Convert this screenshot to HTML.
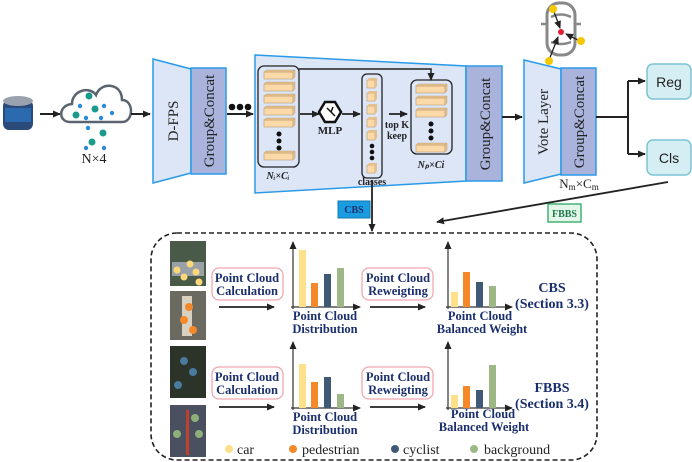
<!DOCTYPE html>
<html><head><meta charset="utf-8"><style>
body{margin:0;background:#fff}
svg{display:block}
.b{font-family:"Liberation Serif",serif;font-weight:bold;fill:#1b2f6e}
.s{font-family:"Liberation Serif",serif;fill:#222}
</style></head><body>
<svg width="692" height="462" viewBox="0 0 692 462" xmlns="http://www.w3.org/2000/svg">
<defs>
<marker id="a" markerWidth="8" markerHeight="8" refX="7" refY="4" orient="auto" markerUnits="userSpaceOnUse"><path d="M0,0.5 L8,4 L0,7.5 z" fill="#222"/></marker>
<g id="bar"><rect x="0" y="0" width="29" height="7" fill="#fcd9a8" stroke="#b89a70" stroke-width="0.6"/><path d="M29,0 l2,-2 v7 l-2,2 z M0,0 l2,-2 h29 l-2,2z" fill="#e6c08a" stroke="#b89a70" stroke-width="0.4"/></g>
<g id="sq"><rect x="0" y="0" width="8" height="8" fill="#fcd9a8" stroke="#b89a70" stroke-width="0.6"/><path d="M8,0 l2,-2 v8 l-2,2 z M0,0 l2,-2 h8 l-2,2z" fill="#e6c08a"/></g>
</defs>
<!-- lidar -->
<rect x="3" y="100" width="30" height="30" rx="6" fill="#2a4a7a"/>
<ellipse cx="18" cy="101" rx="15" ry="5" fill="#9aa3ad"/>
<rect x="5" y="108" width="26" height="14" fill="#2e78c8" opacity="0.7"/>
<line x1="40" y1="114" x2="60" y2="114" stroke="#222" stroke-width="2" marker-end="url(#a)"/>
<!-- cloud -->
<path d="M70,122 C58,122 58,105 72,104 C72,90 90,86 96,95 C100,82 122,82 122,100 C134,100 134,122 122,122 Z" fill="#fff" stroke="#5a6470" stroke-width="2.5"/>
<g fill="#1a9a8a"><circle cx="89" cy="96" r="3.5"/><circle cx="95" cy="109" r="3.5"/><circle cx="76" cy="115" r="3.5"/><circle cx="103" cy="133" r="3.5"/><circle cx="92" cy="142" r="3.5"/></g>
<g fill="#2a8ad8"><circle cx="80" cy="106" r="2.2"/><circle cx="104" cy="106" r="2.2"/><circle cx="86" cy="118" r="2.2"/><circle cx="101" cy="118" r="2.2"/><circle cx="112" cy="113" r="2.2"/><circle cx="88" cy="128" r="2.2"/><circle cx="86" cy="148" r="2.2"/><circle cx="104" cy="148" r="2.2"/></g>
<text x="94" y="163" class="s" font-size="14" text-anchor="middle">N×4</text>
<line x1="131" y1="114" x2="150" y2="114" stroke="#222" stroke-width="2" marker-end="url(#a)"/>
<!-- D-FPS -->
<path d="M153,59 L191,69 L191,173 L153,183 Z" fill="#dce6f7" stroke="#2a9ae8" stroke-width="1.5"/>
<rect x="191" y="68" width="35" height="106" fill="#a9b3dc" stroke="#2a9ae8" stroke-width="1.5"/>
<text transform="translate(178,121) rotate(-90)" class="s" font-size="15" text-anchor="middle">D-FPS</text>
<text transform="translate(214,121) rotate(-90)" class="s" font-size="15" text-anchor="middle">Group&amp;Concat</text>
<circle cx="232" cy="107" r="3.3" fill="#111"/><circle cx="240" cy="107" r="3.3" fill="#111"/><circle cx="248" cy="107" r="3.3" fill="#111"/>
<line x1="227" y1="114" x2="253" y2="114" stroke="#222" stroke-width="2" marker-end="url(#a)"/>
<!-- big module -->
<path d="M255,55 L466,66 L466,181 L255,193 Z" fill="#dce6f7" stroke="#2a9ae8" stroke-width="1.5"/>
<rect x="466" y="66" width="36" height="115" fill="#a9b3dc" stroke="#2a9ae8" stroke-width="1.5"/>
<text transform="translate(490,124) rotate(-90)" class="s" font-size="15" text-anchor="middle">Group&amp;Concat</text>
<rect x="258" y="66" width="41" height="101" rx="6" fill="none" stroke="#222" stroke-width="1.3"/>
<use href="#bar" x="264" y="72"/><use href="#bar" x="264" y="84"/><use href="#bar" x="264" y="96"/><use href="#bar" x="264" y="108"/><use href="#bar" x="264" y="120"/><use href="#bar" x="264" y="153"/>
<circle cx="279" cy="134" r="2.5" fill="#111"/><circle cx="279" cy="141" r="2.5" fill="#111"/><circle cx="279" cy="148" r="2.5" fill="#111"/>
<text x="278" y="179" class="b" font-size="10" font-style="italic" text-anchor="middle" style="fill:#222">Nᵢ×Cᵢ</text>
<polyline points="299,69 431,69 431,80" fill="none" stroke="#222" stroke-width="1.5" marker-end="url(#a)"/>
<line x1="300" y1="114" x2="319" y2="114" stroke="#222" stroke-width="1.8" marker-end="url(#a)"/>
<polygon points="325,102 335,102 341,112 335,122 325,122 319,112" fill="#fff" stroke="#111" stroke-width="2.5"/>
<path d="M327,108 L331,112 L335,116 M331,112 L333,107" stroke="#111" stroke-width="1.5"/>
<text x="330" y="134" class="b" font-size="11" style="fill:#222" text-anchor="middle">MLP</text>
<line x1="342" y1="114" x2="360" y2="114" stroke="#222" stroke-width="1.8" marker-end="url(#a)"/>
<rect x="362" y="74" width="20" height="104" rx="5" fill="none" stroke="#222" stroke-width="1.3"/>
<use href="#sq" x="367" y="80"/><use href="#sq" x="367" y="93"/><use href="#sq" x="367" y="106"/><use href="#sq" x="367" y="119"/><use href="#sq" x="367" y="132"/><use href="#sq" x="367" y="165"/>
<circle cx="372" cy="146" r="2.3" fill="#111"/><circle cx="372" cy="152" r="2.3" fill="#111"/><circle cx="372" cy="158" r="2.3" fill="#111"/>
<text x="372" y="185" class="b" font-size="10" style="fill:#222" text-anchor="middle">classes</text>
<line x1="389" y1="114" x2="407" y2="114" stroke="#222" stroke-width="1.8" marker-end="url(#a)"/>
<text x="397" y="128" class="b" font-size="10" style="fill:#222" text-anchor="middle">top K</text>
<text x="397" y="139" class="b" font-size="10" style="fill:#222" text-anchor="middle">keep</text>
<rect x="411" y="80" width="41" height="74" rx="6" fill="none" stroke="#222" stroke-width="1.3"/>
<use href="#bar" x="416" y="86"/><use href="#bar" x="416" y="98"/><use href="#bar" x="416" y="110"/><use href="#bar" x="416" y="145"/>
<circle cx="431" cy="124" r="2.5" fill="#111"/><circle cx="431" cy="131" r="2.5" fill="#111"/><circle cx="431" cy="138" r="2.5" fill="#111"/>
<text x="431" y="168" class="b" font-size="10" font-style="italic" style="fill:#222" text-anchor="middle">Nₚ×Ci</text>
<line x1="502" y1="117" x2="522" y2="117" stroke="#222" stroke-width="2" marker-end="url(#a)"/>
<!-- vote -->
<path d="M524,60 L561,69 L561,174 L524,183 Z" fill="#dce6f7" stroke="#2a9ae8" stroke-width="1.5"/>
<rect x="561" y="68" width="35" height="107" fill="#a9b3dc" stroke="#2a9ae8" stroke-width="1.5"/>
<text transform="translate(548,122) rotate(-90)" class="s" font-size="15" text-anchor="middle">Vote Layer</text>
<text transform="translate(584,122) rotate(-90)" class="s" font-size="15" text-anchor="middle">Group&amp;Concat</text>
<text x="579" y="188" class="s" font-size="13" text-anchor="middle">N<tspan font-size="9" dy="2">m</tspan><tspan dy="-2">×C</tspan><tspan font-size="9" dy="2">m</tspan></text>
<!-- car -->
<rect x="547" y="3" width="28" height="52" rx="12" fill="none" stroke="#888" stroke-width="3"/>
<path d="M551,17 Q561,12 571,17 M551,42 Q561,46 571,42 M541,24 h6 M575,24 h6" stroke="#888" stroke-width="2.5" fill="none"/>
<line x1="553" y1="9" x2="560" y2="28" stroke="#222" stroke-width="1.3" marker-end="url(#a)"/>
<line x1="580" y1="41" x2="566" y2="34" stroke="#222" stroke-width="1.3" marker-end="url(#a)"/>
<line x1="549" y1="60" x2="558" y2="37" stroke="#222" stroke-width="1.3" marker-end="url(#a)"/>
<circle cx="561" cy="32" r="3" fill="#e02030"/>
<circle cx="553" cy="9" r="4" fill="#f5c800"/><circle cx="581" cy="41" r="4" fill="#f5c800"/><circle cx="549" cy="61" r="4" fill="#f5c800"/>
<!-- heads -->
<polyline points="596,117 628,117" fill="none" stroke="#222" stroke-width="2"/>
<polyline points="628,81 628,154" fill="none" stroke="#222" stroke-width="2"/>
<line x1="628" y1="81" x2="645" y2="81" stroke="#222" stroke-width="2" marker-end="url(#a)"/>
<line x1="628" y1="154" x2="645" y2="154" stroke="#222" stroke-width="2" marker-end="url(#a)"/>
<rect x="647" y="64" width="44" height="35" rx="6" fill="#d5eef3" stroke="#7cc4d4" stroke-width="1.5"/>
<rect x="647" y="140" width="44" height="35" rx="6" fill="#d5eef3" stroke="#7cc4d4" stroke-width="1.5"/>
<text x="669" y="87" font-family="Liberation Sans,sans-serif" font-size="14" fill="#222" text-anchor="middle">Reg</text>
<text x="669" y="163" font-family="Liberation Sans,sans-serif" font-size="14" fill="#222" text-anchor="middle">Cls</text>
<!-- CBS/FBBS -->
<rect x="338" y="201" width="32" height="17" fill="#1a9de0" stroke="#1478b0"/>
<text x="354" y="213" class="b" font-size="10" text-anchor="middle">CBS</text>
<line x1="372" y1="180" x2="372" y2="231" stroke="#222" stroke-width="1.8" marker-end="url(#a)"/>
<line x1="668" y1="182" x2="437" y2="222" stroke="#222" stroke-width="1.8" marker-end="url(#a)"/>
<rect x="548" y="204" width="33" height="18" fill="#e4f5ea" stroke="#2aa860" stroke-width="1.3"/>
<text x="564.5" y="217" font-family="Liberation Serif,serif" font-weight="bold" font-size="10" fill="#1f7a4a" text-anchor="middle">FBBS</text>
<!-- dashed box -->
<rect x="151" y="233" width="446" height="227" rx="26" fill="none" stroke="#222" stroke-width="1.6" stroke-dasharray="5,3"/>
<!-- images -->
<rect x="170" y="241" width="36" height="45" fill="#4a5a48"/><rect x="172" y="262" width="32" height="14" fill="#9aa0a8"/>
<rect x="170" y="291" width="36" height="49" fill="#6a6a60"/><rect x="182" y="296" width="10" height="40" fill="#d8d0c0"/>
<rect x="170" y="346" width="36" height="52" fill="#2c3328"/>
<rect x="170" y="405" width="36" height="52" fill="#4a5060"/><rect x="186" y="410" width="3" height="45" fill="#c04030"/>
<g fill="#fbd77a"><circle cx="177" cy="270" r="3.5"/><circle cx="190" cy="264" r="3.5"/><circle cx="184" cy="277" r="3.5"/><circle cx="196" cy="272" r="3.5"/><circle cx="199" cy="282" r="3.5"/></g>
<g fill="#f5892a"><circle cx="189" cy="307" r="4"/><circle cx="184" cy="320" r="4"/><circle cx="193" cy="330" r="4"/></g>
<g fill="#4a7a9e"><circle cx="184" cy="361" r="4"/><circle cx="193" cy="372" r="4"/><circle cx="178" cy="385" r="4"/></g>
<g fill="#8db07a"><circle cx="195" cy="418" r="4"/><circle cx="177" cy="434" r="4"/><circle cx="199" cy="434" r="4"/></g>
<!-- process boxes -->
<g font-family="Liberation Serif,serif" font-weight="bold" font-size="12.5" fill="#1b2f6e" text-anchor="middle">
<rect x="212" y="268" width="71" height="32" rx="7" fill="#fff" stroke="#f0a8b0" stroke-width="1.3"/>
<text x="247" y="282">Point Cloud</text><text x="247" y="295">Calculation</text>
<rect x="362" y="268" width="71" height="32" rx="7" fill="#fff" stroke="#f0a8b0" stroke-width="1.3"/>
<text x="398" y="282">Point Cloud</text><text x="398" y="295">Reweigting</text>
<rect x="212" y="367" width="71" height="32" rx="7" fill="#fff" stroke="#f0a8b0" stroke-width="1.3"/>
<text x="247" y="381">Point Cloud</text><text x="247" y="394">Calculation</text>
<rect x="362" y="367" width="71" height="32" rx="7" fill="#fff" stroke="#f0a8b0" stroke-width="1.3"/>
<text x="398" y="381">Point Cloud</text><text x="398" y="394">Reweigting</text>
<text x="325" y="320">Point Cloud</text><text x="325" y="333">Distribution</text>
<text x="480" y="320">Point Cloud</text><text x="482" y="333">Balanced Weight</text>
<text x="325" y="421">Point Cloud</text><text x="325" y="434">Distribution</text>
<text x="483" y="418">Point Cloud</text><text x="484" y="431">Balanced Weight</text>
<text x="552" y="292" font-size="14">CBS</text><text x="552" y="308" font-size="14">(Section 3.3)</text>
<text x="552" y="392" font-size="14">FBBS</text><text x="552" y="408" font-size="14">(Section 3.4)</text>
</g>
<g stroke="#222" stroke-width="1.8">
<line x1="219" y1="307" x2="274" y2="307" marker-end="url(#a)"/>
<line x1="370" y1="307" x2="425" y2="307" marker-end="url(#a)"/>
<line x1="219" y1="407" x2="274" y2="407" marker-end="url(#a)"/>
<line x1="370" y1="407" x2="425" y2="407" marker-end="url(#a)"/>
</g>
<!-- charts -->
<g stroke="#333" stroke-width="1.2" fill="none">
<line x1="293" y1="309" x2="293" y2="242" marker-end="url(#a)"/><line x1="291" y1="307" x2="360" y2="307" marker-end="url(#a)"/>
<line x1="448" y1="309" x2="448" y2="242" marker-end="url(#a)"/><line x1="446" y1="307" x2="512" y2="307" marker-end="url(#a)"/>
<line x1="293" y1="410" x2="293" y2="342" marker-end="url(#a)"/><line x1="291" y1="408" x2="360" y2="408" marker-end="url(#a)"/>
<line x1="448" y1="410" x2="448" y2="342" marker-end="url(#a)"/><line x1="446" y1="408" x2="512" y2="408" marker-end="url(#a)"/>
</g>
<g>
<rect x="299" y="250" width="7" height="57" fill="#fde08a"/><rect x="311" y="283" width="7" height="24" fill="#f5892a"/><rect x="324" y="274" width="7" height="33" fill="#3e5a74"/><rect x="337" y="268" width="7" height="39" fill="#9db886"/>
<rect x="451" y="292" width="7" height="15" fill="#fde08a"/><rect x="463" y="272" width="7" height="35" fill="#f5892a"/><rect x="476" y="282" width="7" height="25" fill="#3e5a74"/><rect x="489" y="286" width="7" height="21" fill="#9db886"/>
<rect x="299" y="364" width="7" height="44" fill="#fde08a"/><rect x="311" y="382" width="7" height="26" fill="#f5892a"/><rect x="324" y="377" width="7" height="31" fill="#3e5a74"/><rect x="337" y="394" width="7" height="14" fill="#9db886"/>
<rect x="451" y="395" width="7" height="13" fill="#fde08a"/><rect x="463" y="386" width="7" height="22" fill="#f5892a"/><rect x="476" y="390" width="7" height="18" fill="#3e5a74"/><rect x="489" y="365" width="7" height="43" fill="#9db886"/>
</g>
<!-- legend -->
<circle cx="229" cy="449" r="4" fill="#fde08a"/><text x="237" y="454" class="s" font-size="14">car</text>
<circle cx="293" cy="449" r="4" fill="#f5892a"/><text x="302" y="454" class="s" font-size="14">pedestrian</text>
<circle cx="395" cy="449" r="4" fill="#3e5a74"/><text x="403" y="454" class="s" font-size="14">cyclist</text>
<circle cx="474" cy="449" r="4" fill="#9db886"/><text x="484" y="454" class="s" font-size="14">background</text>
</svg>
</body></html>
